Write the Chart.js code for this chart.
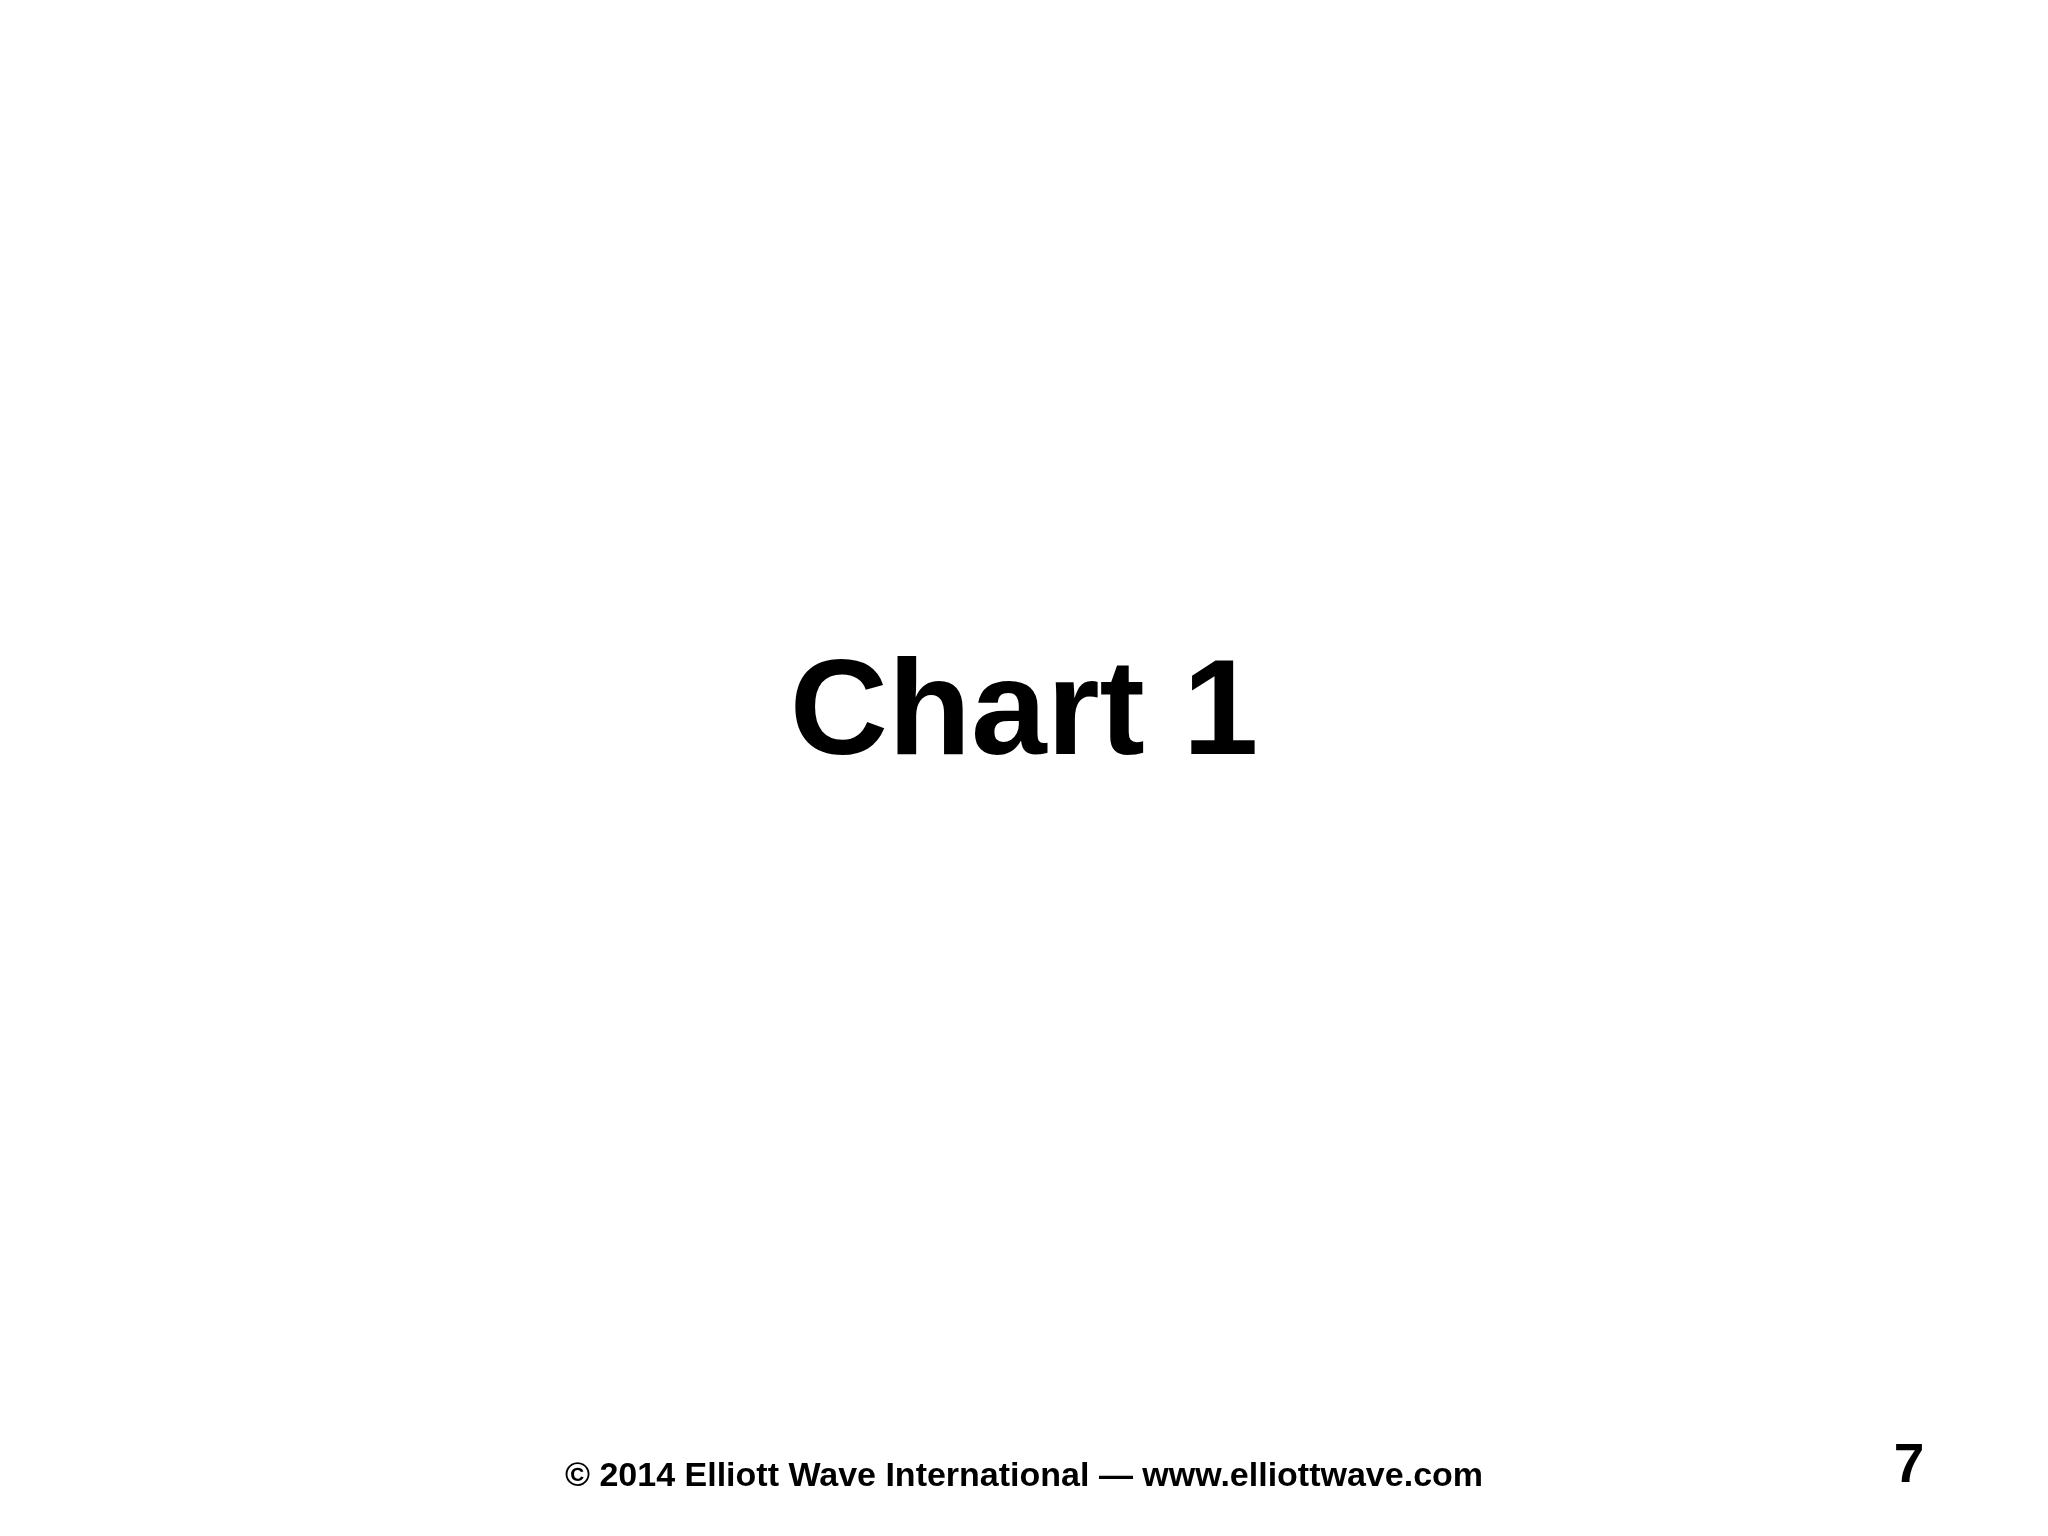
<!DOCTYPE html>
<html>
<head>
<meta charset="utf-8">
<title>Chart 1</title>
<script src="https://cdn.jsdelivr.net/npm/chart.js@4.4.1/dist/chart.umd.min.js"></script>
<style>
  html, body { margin: 0; padding: 0; background: #ffffff; }
  #wrap { position: relative; width: 2048px; height: 1536px; }
</style>
</head>
<body>
<div id="wrap"><canvas id="c"></canvas></div>
<script>
// Slide content: this slide is only a title page, it carries no plotted values.
const categories = [];
const seriesValues = [];
const titleText = ["Chart 1"];
const footerText = ["\u00A9 2014 Elliott Wave International \u2014 www.elliottwave.com"];
const pageNumber = ["7"];

const FONT = "'Liberation Sans', Arial, Helvetica, sans-serif";

const pageNumberPlugin = {
  id: 'pageNumber',
  afterDraw(chart) {
    const ctx = chart.ctx;
    ctx.save();
    ctx.fillStyle = '#000000';
    ctx.font = 'bold 55px ' + FONT;
    ctx.textAlign = 'center';
    ctx.textBaseline = 'alphabetic';
    ctx.fillText(pageNumber[0], 1909, 1482);
    ctx.restore();
  }
};

new Chart(document.getElementById('c'), {
  type: 'bar',
  data: {
    labels: categories,
    datasets: [{ label: 'Chart 1', data: seriesValues, backgroundColor: '#000000' }]
  },
  options: {
    responsive: true,
    maintainAspectRatio: false,
    animation: false,
    devicePixelRatio: 1,
    layout: { padding: 0 },
    scales: {
      x: { display: false },
      y: { display: false }
    },
    plugins: {
      legend: { display: false },
      tooltip: { enabled: false },
      title: {
        display: true,
        text: titleText,
        color: '#000000',
        position: 'top',
        align: 'center',
        font: { family: FONT, size: 136, weight: 'bold', lineHeight: 1.2 },
        padding: { top: 635, bottom: 0 }
      },
      subtitle: {
        display: true,
        text: footerText,
        color: '#000000',
        position: 'bottom',
        align: 'center',
        font: { family: FONT, size: 34, weight: 'bold', lineHeight: 1.2 },
        padding: { top: 0, bottom: 39 }
      }
    }
  },
  plugins: [pageNumberPlugin]
});
</script>
</body>
</html>
